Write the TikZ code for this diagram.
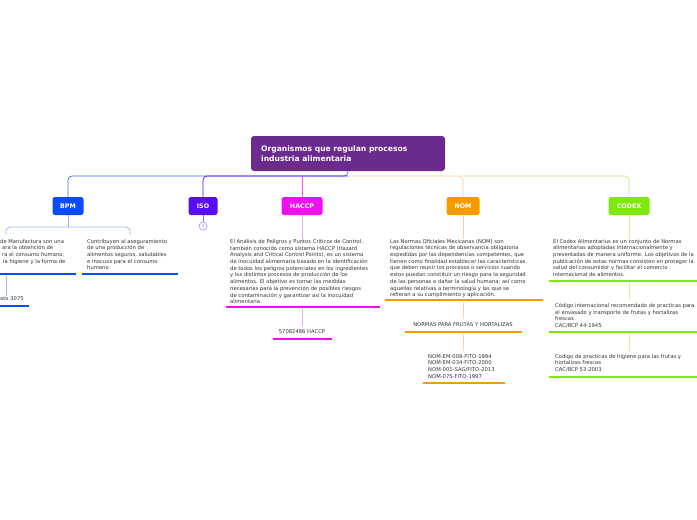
\documentclass[tikz,border=0pt]{standalone}
\usepackage{fontspec}
\setmainfont{DejaVu Sans}
\begin{document}
\begin{tikzpicture}[x=1pt,y=-1pt,
  txt/.style={inner sep=0pt,anchor=north west,align=left,font=\fontsize{5.25}{6.7}\selectfont,text=black!80},
  head/.style={rounded corners=2.5pt,minimum height=18pt,inner sep=0pt,text=white,font=\bfseries\fontsize{6.3}{7}\selectfont},
  ul/.style={line width=2.2pt},
  cn/.style={line width=0.7pt,rounded corners=4pt}]
\useasboundingbox (0,0) rectangle (697,520);
\clip (0,0) rectangle (697,520);
\definecolor{cbpm}{HTML}{0A4BFF}\definecolor{ciso}{HTML}{5A0CF5}
\definecolor{chac}{HTML}{EE11EE}\definecolor{cnom}{HTML}{F79A00}
\definecolor{ccod}{HTML}{7EE80F}\definecolor{croot}{HTML}{6A2A8E}
% root
\node[rounded corners=3pt,fill=croot,minimum width=194pt,minimum height=35pt,inner sep=0pt] (root) at (348,153.5) {};
\node[anchor=west,inner sep=0pt,text=white,align=left,font=\bfseries\fontsize{7.6}{10}\selectfont] (rt) at (261,153.5) {Organismos que regulan procesos\\industria alimentaria};
% heads
\node[head,fill=cbpm,minimum width=31pt] (bpm) at (68,206) {BPM};
\node[head,fill=ciso,minimum width=29pt] (iso) at (203,206) {ISO};
\node[head,fill=chac,minimum width=41pt] (hac) at (302,206) {HACCP};
\node[head,fill=cnom,minimum width=33pt] (nom) at (463,206) {NOM};
\node[head,fill=ccod,minimum width=41pt] (cod) at (629,206) {CODEX};
\coordinate (rb) at (348,171);
\draw[cn,cbpm!80] (rb) -- (348,176) -- (68,176) -- (bpm.north);
\draw[cn,ciso] (348,176) -- (203,176) -- (iso.north);
\draw[cn,chac!70] (302,176) -- (hac.north);
\draw[cn,cnom!50] (348,176) -- (463,176) -- (nom.north);
\draw[cn,ccod!60] (463,176) -- (629,176) -- (cod.north);
% ISO badge
\node[circle,draw=ciso!50,line width=0.6pt,minimum size=8pt,inner sep=0pt,font=\fontsize{4}{4}\selectfont,text=ciso!60] (badge) at (203,226) {3};
\draw[ciso!60,line width=0.6pt] (iso.south) -- (badge.north);
% BPM children
\draw[cn,cbpm!40] (bpm.south) -- (68,227);
\draw[cn,cbpm!40] (6,235) -- (6,227) -- (130,227) -- (130,235);
\node[txt] (b1) at (0,239) {de Manufactura son una\\\hspace*{2pt}ara la obtención de\\\hspace*{2pt}ra el consumo humano,\\\hspace*{3pt}la higiene y la forma de};
\draw[ul,cbpm] (0,274) -- (76,274);
\node[txt] (b2) at (87,239) {Contribuyen al aseguramiento\\de una producción de\\alimentos seguros, saludables\\e inocuos para el consumo\\humano};
\draw[ul,cbpm] (82,274) -- (178,274);
\draw[cn,cbpm!40] (6,276) -- (6,296);
\node[txt] (b3) at (0,296.5) {ato 3075};
\draw[ul,cbpm] (0,306) -- (29,306);
% HACCP
\draw[cn,chac!40] (hac.south) -- (302,239);
\node[txt] (h1) at (230,239) {El Análisis de Peligros y Puntos Críticos de Control,\\también conocido como sistema HACCP (Hazard\\Analysis and Critical Control Points), es un sistema\\de inocuidad alimentaria basado en la identificación\\de todos los peligros potenciales en los ingredientes\\y los distintos procesos de producción de los\\alimentos. El objetivo es tomar las medidas\\necesarias para la prevención de posibles riesgos\\de contaminación y garantizar así la inocuidad\\alimentaria.};
\draw[ul,chac] (226,307) -- (380,307);
\draw[cn,chac!40] (302,309) -- (302,326);
\node[txt,anchor=north] (h2) at (302,329) {57082486 HACCP};
\draw[ul,chac] (273,339) -- (332,339);
% NOM
\draw[cn,cnom!40] (nom.south) -- (463,239);
\node[txt] (n1) at (390,239) {Las Normas Oficiales Mexicanas (NOM) son\\regulaciones técnicas de observancia obligatoria\\expedidas por las dependencias competentes, que\\tienen como finalidad establecer las características\\que deben reunir los procesos o servicios cuando\\estos puedan constituir un riesgo para la seguridad\\de las personas o dañar la salud humana; así como\\aquellas relativas a terminología y las que se\\refieran a su cumplimiento y aplicación.};
\draw[ul,cnom] (385,300) -- (543,300);
\draw[cn,cnom!40] (463,302) -- (463,319);
\node[txt,anchor=north] (n2) at (463,322) {NORMAS PARA FRUTAS Y HORTALIZAS};
\draw[ul,cnom] (405,332) -- (522,332);
\draw[cn,cnom!40] (463,334) -- (463,351);
\node[txt] (n3) at (428,354) {NOM-EM-008-FITO-1994\\NOM-EM-034-FITO-2000\\NOM-001-SAG/FITO-2013\\NOM-075-FITO-1997};
\draw[ul,cnom] (423,383) -- (505,383);
% CODEX
\draw[cn,ccod!40] (cod.south) -- (629,239);
\node[txt] (c1) at (553,239) {El Codex Alimentarius es un conjunto de Normas\\alimentarias adoptadas internacionalmente y\\presentadas de manera uniforme. Los objetivos de la\\publicación de estas normas consisten en proteger la\\salud del consumidor y facilitar el comercio\\internacional de alimentos.};
\draw[ul,ccod] (549,281) -- (697,281);
\draw[cn,ccod!40] (629,283) -- (629,300);
\node[txt] (c2) at (555,303) {Código internacional recomendado de practicas para\\el envasado y transporte de frutas y hortalizas\\frescas\\CAC/RCP 44-1945};
\draw[ul,ccod] (549,332) -- (697,332);
\draw[cn,ccod!40] (629,334) -- (629,351);
\node[txt] (c3) at (555,354) {Codigo de practicas de higiene para las frutas y\\hortalizas frescas\\CAC/RCP 53-2003};
\draw[ul,ccod] (549,377) -- (697,377);
\end{tikzpicture}
\end{document}
